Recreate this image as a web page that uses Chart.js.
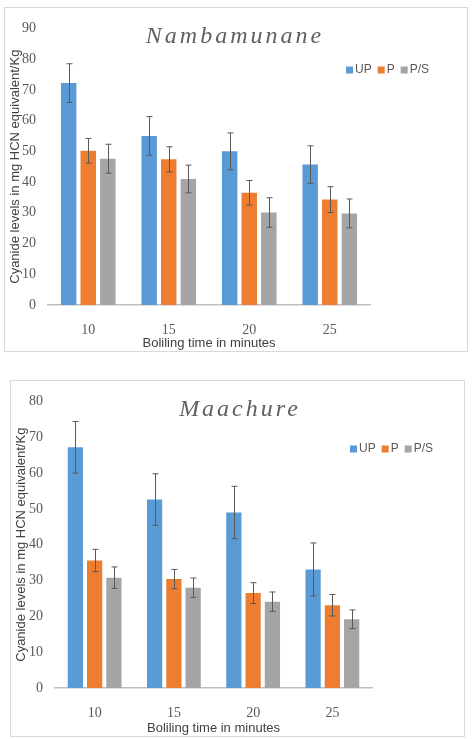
<!DOCTYPE html>
<html>
<head>
<meta charset="utf-8">
<script src="https://cdn.jsdelivr.net/npm/chart.js@4/dist/chart.umd.min.js"></script>
<style>
  body { margin: 0; background: #fff; width: 474px; height: 739px; position: relative; overflow: hidden; }
  .box { position: absolute; border: 1px solid #d9d9d9; background: #fff; }
  .box canvas { display: block; }
</style>
</head>
<body>
<div class="box" id="box1" style="left:4px; top:7px; width:462px; height:343px;"><canvas id="chart1" width="462" height="343"></canvas></div>
<div class="box" id="box2" style="left:10px; top:380px; width:453px; height:355px;"><canvas id="chart2" width="453" height="355"></canvas></div>
<script>
// boiling time categories and series names
const categories = ['10', '15', '20', '25'];
const seriesNames = ['UP', 'P', 'P/S'];
const seriesColors = ['#5b9bd5', '#ed7d31', '#a5a5a5'];

// Nambamunane
const namUP = [72.2, 55.0, 50.0, 45.7];
const namP = [50.2, 47.4, 36.5, 34.3];
const namPS = [47.6, 41.0, 30.1, 29.8];
const namUPErr = [6.3, 6.3, 6.0, 6.1];
const namPErr = [4.0, 4.1, 4.0, 4.2];
const namPSErr = [4.7, 4.5, 4.8, 4.7];

// Maachure
const maaUP = [67.2, 52.6, 49.0, 33.1];
const maaP = [35.6, 30.4, 26.5, 23.1];
const maaPS = [30.8, 28.0, 24.1, 19.2];
const maaUPErr = [7.2, 7.2, 7.3, 7.4];
const maaPErr = [3.1, 2.7, 2.9, 3.0];
const maaPSErr = [3.0, 2.7, 2.7, 2.6];

const yTicks1 = [0, 10, 20, 30, 40, 50, 60, 70, 80, 90];
const yTicks2 = [0, 10, 20, 30, 40, 50, 60, 70, 80];

const xTitle = 'Boliling time in minutes';
const yTitle = 'Cyanide levels in mg HCN equivalent/Kg';

// error bars drawn from the y scale
const errorBars = {
    id: 'errorBars',
    afterDatasetsDraw(chart) {
        const ctx = chart.ctx;
        const yScale = chart.scales.y;
        ctx.save();
        ctx.strokeStyle = '#595959';
        ctx.lineWidth = 1;
        chart.data.datasets.forEach((ds, di) => {
            const meta = chart.getDatasetMeta(di);
            meta.data.forEach((bar, i) => {
                const v = ds.data[i];
                const e = ds.errors[i];
                const yTop = yScale.getPixelForValue(v + e);
                const yBot = yScale.getPixelForValue(v - e);
                const x = Math.round(bar.x) + 0.5;
                ctx.beginPath();
                ctx.moveTo(x, yTop); ctx.lineTo(x, yBot);
                ctx.moveTo(x - 3, yTop); ctx.lineTo(x + 3, yTop);
                ctx.moveTo(x - 3, yBot); ctx.lineTo(x + 3, yBot);
                ctx.stroke();
            });
        });
        ctx.restore();
    }
};

// title + legend floating over the plot, like the original
const overlay = {
    id: 'overlay',
    afterDraw(chart, args, opts) {
        const ctx = chart.ctx;
        ctx.save();
        ctx.fillStyle = '#606060';
        ctx.font = 'italic 24px "Liberation Serif", serif';
        ctx.letterSpacing = '3px';
        ctx.textAlign = 'center';
        ctx.textBaseline = 'middle';
        ctx.fillText(opts.title, opts.titleX, opts.titleY);
        ctx.letterSpacing = '0px';

        ctx.font = '12px "Liberation Sans", sans-serif';
        ctx.textAlign = 'left';
        let x = opts.legendX;
        chart.data.datasets.forEach(ds => {
            ctx.fillStyle = ds.backgroundColor;
            ctx.fillRect(x, opts.legendY - 3.5, 7, 7);
            x += 9;
            ctx.fillStyle = '#595959';
            ctx.fillText(ds.label, x, opts.legendY);
            x += ctx.measureText(ds.label).width + 6;
        });
        ctx.restore();
    }
};

function makeChart(id, seriesData, seriesErr, yTicks, cfg) {
    const datasets = seriesNames.map((name, i) => ({
        label: name,
        data: seriesData[i],
        errors: seriesErr[i],
        backgroundColor: seriesColors[i],
        categoryPercentage: 0.73,
        barPercentage: 0.79
    }));
    return new Chart(document.getElementById(id).getContext('2d'), {
        type: 'bar',
        data: { labels: categories, datasets: datasets },
        plugins: [errorBars, overlay],
        options: {
            responsive: false,
            animation: false,
            layout: { padding: cfg.padding },
            plugins: {
                legend: { display: false },
                tooltip: { enabled: false },
                overlay: cfg.overlay
            },
            scales: {
                x: {
                    grid: { display: false, drawTicks: false },
                    border: { display: true, color: '#bfbfbf', width: 1.5 },
                    ticks: { color: '#595959', padding: 17, font: { family: '"Liberation Serif", serif', size: 14 } },
                    title: { display: true, text: xTitle, color: '#404040', padding: { top: 0, bottom: 0 },
                        font: { family: '"Liberation Sans", sans-serif', size: 13 } },
                    afterFit(scale) { scale.height = cfg.xHeight; }
                },
                y: {
                    min: yTicks[0],
                    max: yTicks[yTicks.length - 1],
                    afterBuildTicks(scale) { scale.ticks = yTicks.map(v => ({ value: v })); },
                    grid: { display: false, drawTicks: false },
                    border: { display: false },
                    ticks: { color: '#595959', padding: 12, font: { family: '"Liberation Serif", serif', size: 14 } },
                    title: { display: true, text: yTitle, color: '#404040', padding: { top: 3, bottom: 0 },
                        font: { family: '"Liberation Sans", sans-serif', size: 13 } },
                    afterFit(scale) { scale.width = cfg.yWidth; }
                }
            }
        }
    });
}

makeChart('chart1', [namUP, namP, namPS], [namUPErr, namPErr, namPSErr], yTicks1, {
    padding: { left: 0, right: 97, top: 10, bottom: 0 },
    yWidth: 43,
    xHeight: 46,
    overlay: { title: 'Nambamunane', titleX: 230, titleY: 29, legendX: 341, legendY: 62 }
});

makeChart('chart2', [maaUP, maaP, maaPS], [maaUPErr, maaPErr, maaPSErr], yTicks2, {
    padding: { left: 0, right: 92, top: 10, bottom: 0 },
    yWidth: 44,
    xHeight: 48,
    overlay: { title: 'Maachure', titleX: 229, titleY: 29, legendX: 339, legendY: 68 }
});
</script>
</body>
</html>
